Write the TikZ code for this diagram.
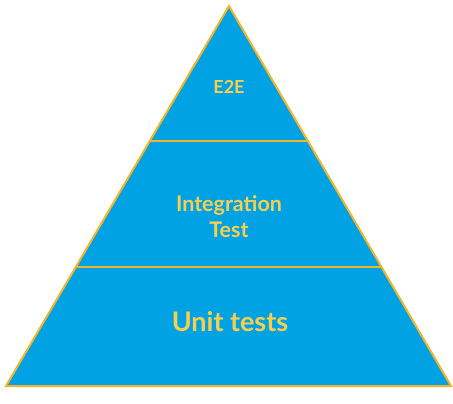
\documentclass[tikz,border=0pt]{standalone}
\usepackage{fontspec}
\setmainfont{Lato}
\usetikzlibrary{calc,positioning}
\definecolor{pyrblue}{HTML}{00A2E4}
\definecolor{pyredge}{HTML}{F5B428}
\definecolor{pyrtext}{HTML}{F7CF4F}
\tikzset{
  layer/.style={fill=pyrblue, draw=pyredge, line width=2pt, line join=miter},
  divider/.style={draw=pyredge, line width=2pt},
  label/.style={text=pyrtext, font=\bfseries, align=center, inner sep=0pt}
}

\begin{document}
\begin{tikzpicture}[x=1pt, y=-1pt]
  \useasboundingbox (0,0) rectangle (453,404);
  \coordinate (top) at (229,6);
  \coordinate (bl) at (6,386);
  \coordinate (br) at (451,386);
  \coordinate (l1) at ($(top)!0.355!(bl)$);
  \coordinate (r1) at ($(top)!0.355!(br)$);
  \coordinate (l2) at ($(top)!0.687!(bl)$);
  \coordinate (r2) at ($(top)!0.687!(br)$);

  \draw[layer] (top) -- (br) -- (bl) -- cycle;
  \draw[divider] (l1) -- (r1);
  \draw[divider] (l2) -- (r2);

  \node[label, font=\fontsize{18}{21}\selectfont\bfseries] (e2e) at (229,87) {E2E};
  \node[label, font=\fontsize{21.5}{26}\selectfont\bfseries] (integ) at (229,217) {Integration\\Test};
  \node[label, font=\fontsize{27}{32}\selectfont\bfseries] (unit) at (230,322) {Unit tests};
\end{tikzpicture}
\end{document}
